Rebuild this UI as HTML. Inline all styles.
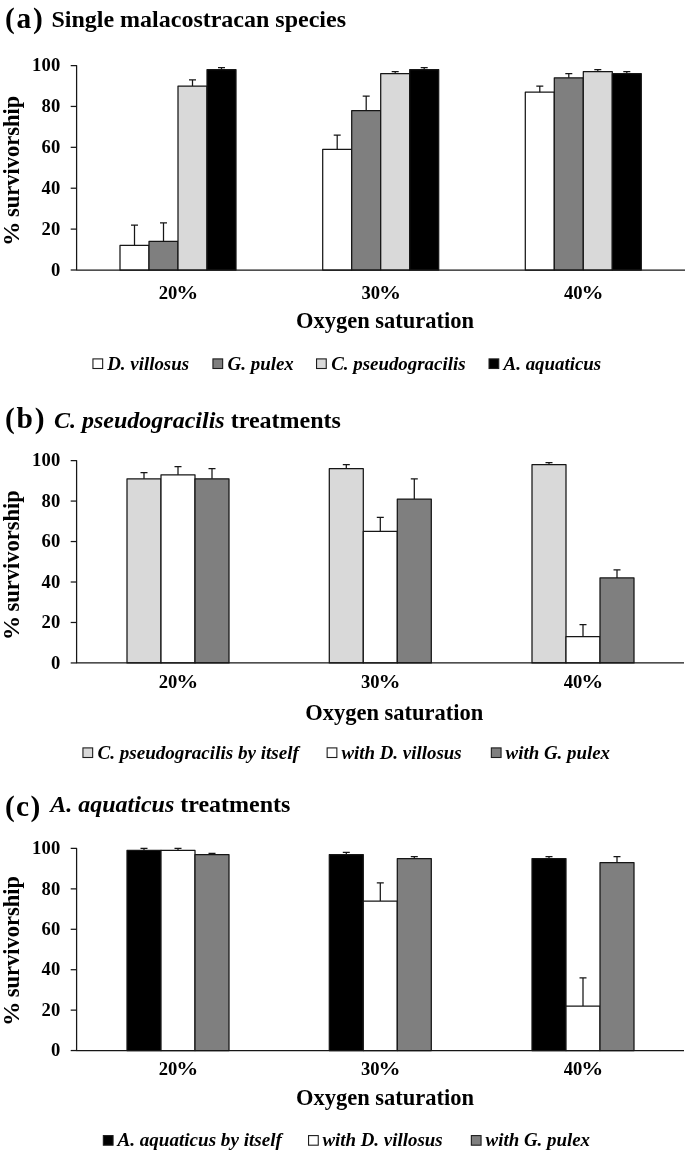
<!DOCTYPE html>
<html lang="en"><head><meta charset="utf-8"><title>Survivorship figure</title>
<style>html,body{margin:0;padding:0;background:#fff}svg{display:block}</style></head>
<body>
<svg width="685" height="1152" viewBox="0 0 685 1152" font-family='"Liberation Serif", "Times New Roman", serif' font-weight="bold" fill="#000">
<rect width="685" height="1152" fill="#fff"/>
<text x="5" y="27.6" font-size="29.4" letter-spacing="1.8">(a)</text>
<text x="51.4" y="27.0" font-size="24">Single malacostracan species</text>
<rect x="120.00" y="245.47" width="29.00" height="24.53" fill="#ffffff" stroke="#161616" stroke-width="1.25" stroke-linejoin="round"/>
<rect x="149.00" y="241.38" width="29.00" height="28.62" fill="#7f7f7f" stroke="#161616" stroke-width="1.25" stroke-linejoin="round"/>
<rect x="178.00" y="86.00" width="29.00" height="184.00" fill="#d9d9d9" stroke="#161616" stroke-width="1.25" stroke-linejoin="round"/>
<rect x="207.00" y="69.64" width="29.00" height="200.36" fill="#000000" stroke="#161616" stroke-width="1.25" stroke-linejoin="round"/>
<path d="M134.50 245.47V225.02M131.00 225.02H138.00" stroke="#161616" stroke-width="1.25" stroke-linejoin="round" fill="none"/>
<path d="M163.50 241.38V222.98M160.00 222.98H167.00" stroke="#161616" stroke-width="1.25" stroke-linejoin="round" fill="none"/>
<path d="M192.50 86.00V79.86M189.00 79.86H196.00" stroke="#161616" stroke-width="1.25" stroke-linejoin="round" fill="none"/>
<path d="M221.50 69.64V67.59M218.00 67.59H225.00" stroke="#161616" stroke-width="1.25" stroke-linejoin="round" fill="none"/>
<rect x="322.70" y="149.37" width="29.00" height="120.63" fill="#ffffff" stroke="#161616" stroke-width="1.25" stroke-linejoin="round"/>
<rect x="351.70" y="110.53" width="29.00" height="159.47" fill="#7f7f7f" stroke="#161616" stroke-width="1.25" stroke-linejoin="round"/>
<rect x="380.70" y="73.73" width="29.00" height="196.27" fill="#d9d9d9" stroke="#161616" stroke-width="1.25" stroke-linejoin="round"/>
<rect x="409.70" y="69.64" width="29.00" height="200.36" fill="#000000" stroke="#161616" stroke-width="1.25" stroke-linejoin="round"/>
<path d="M337.20 149.37V135.06M333.70 135.06H340.70" stroke="#161616" stroke-width="1.25" stroke-linejoin="round" fill="none"/>
<path d="M366.20 110.53V96.22M362.70 96.22H369.70" stroke="#161616" stroke-width="1.25" stroke-linejoin="round" fill="none"/>
<path d="M395.20 73.73V71.68M391.70 71.68H398.70" stroke="#161616" stroke-width="1.25" stroke-linejoin="round" fill="none"/>
<path d="M424.20 69.64V67.59M420.70 67.59H427.70" stroke="#161616" stroke-width="1.25" stroke-linejoin="round" fill="none"/>
<rect x="525.30" y="92.13" width="29.00" height="177.87" fill="#ffffff" stroke="#161616" stroke-width="1.25" stroke-linejoin="round"/>
<rect x="554.30" y="77.82" width="29.00" height="192.18" fill="#7f7f7f" stroke="#161616" stroke-width="1.25" stroke-linejoin="round"/>
<rect x="583.30" y="71.68" width="29.00" height="198.32" fill="#d9d9d9" stroke="#161616" stroke-width="1.25" stroke-linejoin="round"/>
<rect x="612.30" y="73.73" width="29.00" height="196.27" fill="#000000" stroke="#161616" stroke-width="1.25" stroke-linejoin="round"/>
<path d="M539.80 92.13V86.00M536.30 86.00H543.30" stroke="#161616" stroke-width="1.25" stroke-linejoin="round" fill="none"/>
<path d="M568.80 77.82V73.73M565.30 73.73H572.30" stroke="#161616" stroke-width="1.25" stroke-linejoin="round" fill="none"/>
<path d="M597.80 71.68V69.64M594.30 69.64H601.30" stroke="#161616" stroke-width="1.25" stroke-linejoin="round" fill="none"/>
<path d="M626.80 73.73V71.68M623.30 71.68H630.30" stroke="#161616" stroke-width="1.25" stroke-linejoin="round" fill="none"/>
<path d="M70.70 65.55H76.6V270.00H686" stroke="#161616" stroke-width="1.25" stroke-linejoin="round" fill="none"/>
<path d="M70.70 270.00H76.6" stroke="#161616" stroke-width="1.25" stroke-linejoin="round"/>
<text x="60.65" y="275.75" text-anchor="end" font-size="18.6" letter-spacing="0.25">0</text>
<path d="M70.70 229.11H76.6" stroke="#161616" stroke-width="1.25" stroke-linejoin="round"/>
<text x="60.65" y="234.86" text-anchor="end" font-size="18.6" letter-spacing="0.25">20</text>
<path d="M70.70 188.22H76.6" stroke="#161616" stroke-width="1.25" stroke-linejoin="round"/>
<text x="60.65" y="193.97" text-anchor="end" font-size="18.6" letter-spacing="0.25">40</text>
<path d="M70.70 147.33H76.6" stroke="#161616" stroke-width="1.25" stroke-linejoin="round"/>
<text x="60.65" y="153.08" text-anchor="end" font-size="18.6" letter-spacing="0.25">60</text>
<path d="M70.70 106.44H76.6" stroke="#161616" stroke-width="1.25" stroke-linejoin="round"/>
<text x="60.65" y="112.19" text-anchor="end" font-size="18.6" letter-spacing="0.25">80</text>
<text x="60.65" y="71.30" text-anchor="end" font-size="18.6" letter-spacing="0.25">100</text>
<text x="158.70" y="298.60" font-size="18.6">20</text>
<text transform="translate(176.25 298.60) scale(1.186 1)" font-size="18.6">%</text>
<text x="361.40" y="298.60" font-size="18.6">30</text>
<text transform="translate(378.95 298.60) scale(1.186 1)" font-size="18.6">%</text>
<text x="564.00" y="298.60" font-size="18.6">40</text>
<text transform="translate(581.55 298.60) scale(1.186 1)" font-size="18.6">%</text>
<g transform="translate(19.0 245.88) rotate(-90)" font-size="22.5"><text transform="scale(1.09 1)">%</text><text x="28.8">survivorship</text></g>
<text x="385" y="328.2" text-anchor="middle" font-size="22.5">Oxygen saturation</text>
<rect x="92.95" y="358.90" width="9.7" height="9.6" fill="#ffffff" stroke="#1c1c1c" stroke-width="1.1"/>
<text x="107.20" y="369.70" font-size="18.9" font-style="italic">D. villosus</text>
<rect x="212.95" y="358.90" width="9.7" height="9.6" fill="#7f7f7f" stroke="#1c1c1c" stroke-width="1.1"/>
<text x="227.60" y="369.70" font-size="18.9" font-style="italic">G. pulex</text>
<rect x="316.55" y="358.90" width="9.7" height="9.6" fill="#d9d9d9" stroke="#1c1c1c" stroke-width="1.1"/>
<text x="331.20" y="369.70" font-size="18.9" font-style="italic">C. pseudogracilis</text>
<rect x="489.05" y="358.90" width="9.7" height="9.6" fill="#000000" stroke="#1c1c1c" stroke-width="1.1"/>
<text x="503.60" y="369.70" font-size="18.9" font-style="italic">A. aquaticus</text>
<text x="5" y="428.4" font-size="29.4" letter-spacing="1.8">(b)</text>
<text x="54" y="428.2" font-size="24"><tspan font-style="italic">C. pseudogracilis</tspan> treatments</text>
<rect x="127.00" y="478.81" width="34.00" height="184.14" fill="#d9d9d9" stroke="#161616" stroke-width="1.25" stroke-linejoin="round"/>
<rect x="161.00" y="474.76" width="34.00" height="188.19" fill="#ffffff" stroke="#161616" stroke-width="1.25" stroke-linejoin="round"/>
<rect x="195.00" y="478.81" width="34.00" height="184.14" fill="#7f7f7f" stroke="#161616" stroke-width="1.25" stroke-linejoin="round"/>
<path d="M144.00 478.81V472.74M140.50 472.74H147.50" stroke="#161616" stroke-width="1.25" stroke-linejoin="round" fill="none"/>
<path d="M178.00 474.76V466.67M174.50 466.67H181.50" stroke="#161616" stroke-width="1.25" stroke-linejoin="round" fill="none"/>
<path d="M212.00 478.81V468.69M208.50 468.69H215.50" stroke="#161616" stroke-width="1.25" stroke-linejoin="round" fill="none"/>
<rect x="329.30" y="468.69" width="34.00" height="194.26" fill="#d9d9d9" stroke="#161616" stroke-width="1.25" stroke-linejoin="round"/>
<rect x="363.30" y="531.42" width="34.00" height="131.53" fill="#ffffff" stroke="#161616" stroke-width="1.25" stroke-linejoin="round"/>
<rect x="397.30" y="499.05" width="34.00" height="163.90" fill="#7f7f7f" stroke="#161616" stroke-width="1.25" stroke-linejoin="round"/>
<path d="M346.30 468.69V464.65M342.80 464.65H349.80" stroke="#161616" stroke-width="1.25" stroke-linejoin="round" fill="none"/>
<path d="M380.30 531.42V517.26M376.80 517.26H383.80" stroke="#161616" stroke-width="1.25" stroke-linejoin="round" fill="none"/>
<path d="M414.30 499.05V478.81M410.80 478.81H417.80" stroke="#161616" stroke-width="1.25" stroke-linejoin="round" fill="none"/>
<rect x="532.00" y="464.65" width="34.00" height="198.30" fill="#d9d9d9" stroke="#161616" stroke-width="1.25" stroke-linejoin="round"/>
<rect x="566.00" y="636.64" width="34.00" height="26.31" fill="#ffffff" stroke="#161616" stroke-width="1.25" stroke-linejoin="round"/>
<rect x="600.00" y="577.96" width="34.00" height="84.99" fill="#7f7f7f" stroke="#161616" stroke-width="1.25" stroke-linejoin="round"/>
<path d="M549.00 464.65V462.62M545.50 462.62H552.50" stroke="#161616" stroke-width="1.25" stroke-linejoin="round" fill="none"/>
<path d="M583.00 636.64V624.50M579.50 624.50H586.50" stroke="#161616" stroke-width="1.25" stroke-linejoin="round" fill="none"/>
<path d="M617.00 577.96V569.87M613.50 569.87H620.50" stroke="#161616" stroke-width="1.25" stroke-linejoin="round" fill="none"/>
<path d="M70.70 460.60H76.6V662.95H684.0" stroke="#161616" stroke-width="1.25" stroke-linejoin="round" fill="none"/>
<path d="M70.70 662.95H76.6" stroke="#161616" stroke-width="1.25" stroke-linejoin="round"/>
<text x="60.65" y="668.70" text-anchor="end" font-size="18.6" letter-spacing="0.25">0</text>
<path d="M70.70 622.48H76.6" stroke="#161616" stroke-width="1.25" stroke-linejoin="round"/>
<text x="60.65" y="628.23" text-anchor="end" font-size="18.6" letter-spacing="0.25">20</text>
<path d="M70.70 582.01H76.6" stroke="#161616" stroke-width="1.25" stroke-linejoin="round"/>
<text x="60.65" y="587.76" text-anchor="end" font-size="18.6" letter-spacing="0.25">40</text>
<path d="M70.70 541.54H76.6" stroke="#161616" stroke-width="1.25" stroke-linejoin="round"/>
<text x="60.65" y="547.29" text-anchor="end" font-size="18.6" letter-spacing="0.25">60</text>
<path d="M70.70 501.07H76.6" stroke="#161616" stroke-width="1.25" stroke-linejoin="round"/>
<text x="60.65" y="506.82" text-anchor="end" font-size="18.6" letter-spacing="0.25">80</text>
<text x="60.65" y="466.35" text-anchor="end" font-size="18.6" letter-spacing="0.25">100</text>
<text x="158.70" y="687.85" font-size="18.6">20</text>
<text transform="translate(176.25 687.85) scale(1.186 1)" font-size="18.6">%</text>
<text x="361.00" y="687.85" font-size="18.6">30</text>
<text transform="translate(378.55 687.85) scale(1.186 1)" font-size="18.6">%</text>
<text x="563.70" y="687.85" font-size="18.6">40</text>
<text transform="translate(581.25 687.85) scale(1.186 1)" font-size="18.6">%</text>
<g transform="translate(19.0 640.28) rotate(-90)" font-size="22.5"><text transform="scale(1.09 1)">%</text><text x="28.8">survivorship</text></g>
<text x="394.3" y="720.2" text-anchor="middle" font-size="22.5">Oxygen saturation</text>
<rect x="82.95" y="747.90" width="9.7" height="9.6" fill="#d9d9d9" stroke="#1c1c1c" stroke-width="1.1"/>
<text x="97.40" y="758.60" font-size="19.1" font-style="italic">C. pseudogracilis by itself</text>
<rect x="327.15" y="747.90" width="9.7" height="9.6" fill="#ffffff" stroke="#1c1c1c" stroke-width="1.1"/>
<text x="341.40" y="758.60" font-size="18.9" font-style="italic">with D. villosus</text>
<rect x="491.35" y="747.90" width="9.7" height="9.6" fill="#7f7f7f" stroke="#1c1c1c" stroke-width="1.1"/>
<text x="505.60" y="758.60" font-size="18.9" font-style="italic">with G. pulex</text>
<text x="5" y="815.9" font-size="29.4" letter-spacing="1.3">(c)</text>
<text x="50.2" y="812.0" font-size="24"><tspan font-style="italic">A. aquaticus</tspan> treatments</text>
<rect x="127.00" y="850.47" width="34.00" height="200.08" fill="#000000" stroke="#161616" stroke-width="1.25" stroke-linejoin="round"/>
<rect x="161.00" y="850.47" width="34.00" height="200.08" fill="#ffffff" stroke="#161616" stroke-width="1.25" stroke-linejoin="round"/>
<rect x="195.00" y="854.51" width="34.00" height="196.04" fill="#7f7f7f" stroke="#161616" stroke-width="1.25" stroke-linejoin="round"/>
<path d="M144.00 850.47V848.45M140.50 848.45H147.50" stroke="#161616" stroke-width="1.25" stroke-linejoin="round" fill="none"/>
<path d="M178.00 850.47V848.45M174.50 848.45H181.50" stroke="#161616" stroke-width="1.25" stroke-linejoin="round" fill="none"/>
<path d="M212.00 854.51V853.30M208.50 853.30H215.50" stroke="#161616" stroke-width="1.25" stroke-linejoin="round" fill="none"/>
<rect x="329.30" y="854.51" width="34.00" height="196.04" fill="#000000" stroke="#161616" stroke-width="1.25" stroke-linejoin="round"/>
<rect x="363.30" y="901.00" width="34.00" height="149.55" fill="#ffffff" stroke="#161616" stroke-width="1.25" stroke-linejoin="round"/>
<rect x="397.30" y="858.56" width="34.00" height="191.99" fill="#7f7f7f" stroke="#161616" stroke-width="1.25" stroke-linejoin="round"/>
<path d="M346.30 854.51V852.49M342.80 852.49H349.80" stroke="#161616" stroke-width="1.25" stroke-linejoin="round" fill="none"/>
<path d="M380.30 901.00V882.81M376.80 882.81H383.80" stroke="#161616" stroke-width="1.25" stroke-linejoin="round" fill="none"/>
<path d="M414.30 858.56V856.53M410.80 856.53H417.80" stroke="#161616" stroke-width="1.25" stroke-linejoin="round" fill="none"/>
<rect x="532.00" y="858.56" width="34.00" height="191.99" fill="#000000" stroke="#161616" stroke-width="1.25" stroke-linejoin="round"/>
<rect x="566.00" y="1006.09" width="34.00" height="44.46" fill="#ffffff" stroke="#161616" stroke-width="1.25" stroke-linejoin="round"/>
<rect x="600.00" y="862.60" width="34.00" height="187.95" fill="#7f7f7f" stroke="#161616" stroke-width="1.25" stroke-linejoin="round"/>
<path d="M549.00 858.56V856.53M545.50 856.53H552.50" stroke="#161616" stroke-width="1.25" stroke-linejoin="round" fill="none"/>
<path d="M583.00 1006.09V977.79M579.50 977.79H586.50" stroke="#161616" stroke-width="1.25" stroke-linejoin="round" fill="none"/>
<path d="M617.00 862.60V856.53M613.50 856.53H620.50" stroke="#161616" stroke-width="1.25" stroke-linejoin="round" fill="none"/>
<path d="M70.70 848.45H76.6V1050.55H684.0" stroke="#161616" stroke-width="1.25" stroke-linejoin="round" fill="none"/>
<path d="M70.70 1050.55H76.6" stroke="#161616" stroke-width="1.25" stroke-linejoin="round"/>
<text x="60.65" y="1056.30" text-anchor="end" font-size="18.6" letter-spacing="0.25">0</text>
<path d="M70.70 1010.13H76.6" stroke="#161616" stroke-width="1.25" stroke-linejoin="round"/>
<text x="60.65" y="1015.88" text-anchor="end" font-size="18.6" letter-spacing="0.25">20</text>
<path d="M70.70 969.71H76.6" stroke="#161616" stroke-width="1.25" stroke-linejoin="round"/>
<text x="60.65" y="975.46" text-anchor="end" font-size="18.6" letter-spacing="0.25">40</text>
<path d="M70.70 929.29H76.6" stroke="#161616" stroke-width="1.25" stroke-linejoin="round"/>
<text x="60.65" y="935.04" text-anchor="end" font-size="18.6" letter-spacing="0.25">60</text>
<path d="M70.70 888.87H76.6" stroke="#161616" stroke-width="1.25" stroke-linejoin="round"/>
<text x="60.65" y="894.62" text-anchor="end" font-size="18.6" letter-spacing="0.25">80</text>
<text x="60.65" y="854.20" text-anchor="end" font-size="18.6" letter-spacing="0.25">100</text>
<text x="158.70" y="1075.45" font-size="18.6">20</text>
<text transform="translate(176.25 1075.45) scale(1.186 1)" font-size="18.6">%</text>
<text x="361.00" y="1075.45" font-size="18.6">30</text>
<text transform="translate(378.55 1075.45) scale(1.186 1)" font-size="18.6">%</text>
<text x="563.70" y="1075.45" font-size="18.6">40</text>
<text transform="translate(581.25 1075.45) scale(1.186 1)" font-size="18.6">%</text>
<g transform="translate(19.0 1026.10) rotate(-90)" font-size="22.5"><text transform="scale(1.09 1)">%</text><text x="28.8">survivorship</text></g>
<text x="385" y="1105" text-anchor="middle" font-size="22.5">Oxygen saturation</text>
<rect x="103.35" y="1135.60" width="9.7" height="9.6" fill="#000000" stroke="#1c1c1c" stroke-width="1.1"/>
<text x="117.40" y="1146.10" font-size="19.1" font-style="italic">A. aquaticus by itself</text>
<rect x="308.55" y="1135.60" width="9.7" height="9.6" fill="#ffffff" stroke="#1c1c1c" stroke-width="1.1"/>
<text x="322.40" y="1146.10" font-size="18.9" font-style="italic">with D. villosus</text>
<rect x="471.35" y="1135.60" width="9.7" height="9.6" fill="#7f7f7f" stroke="#1c1c1c" stroke-width="1.1"/>
<text x="485.60" y="1146.10" font-size="18.9" font-style="italic">with G. pulex</text>
</svg>
</body></html>
